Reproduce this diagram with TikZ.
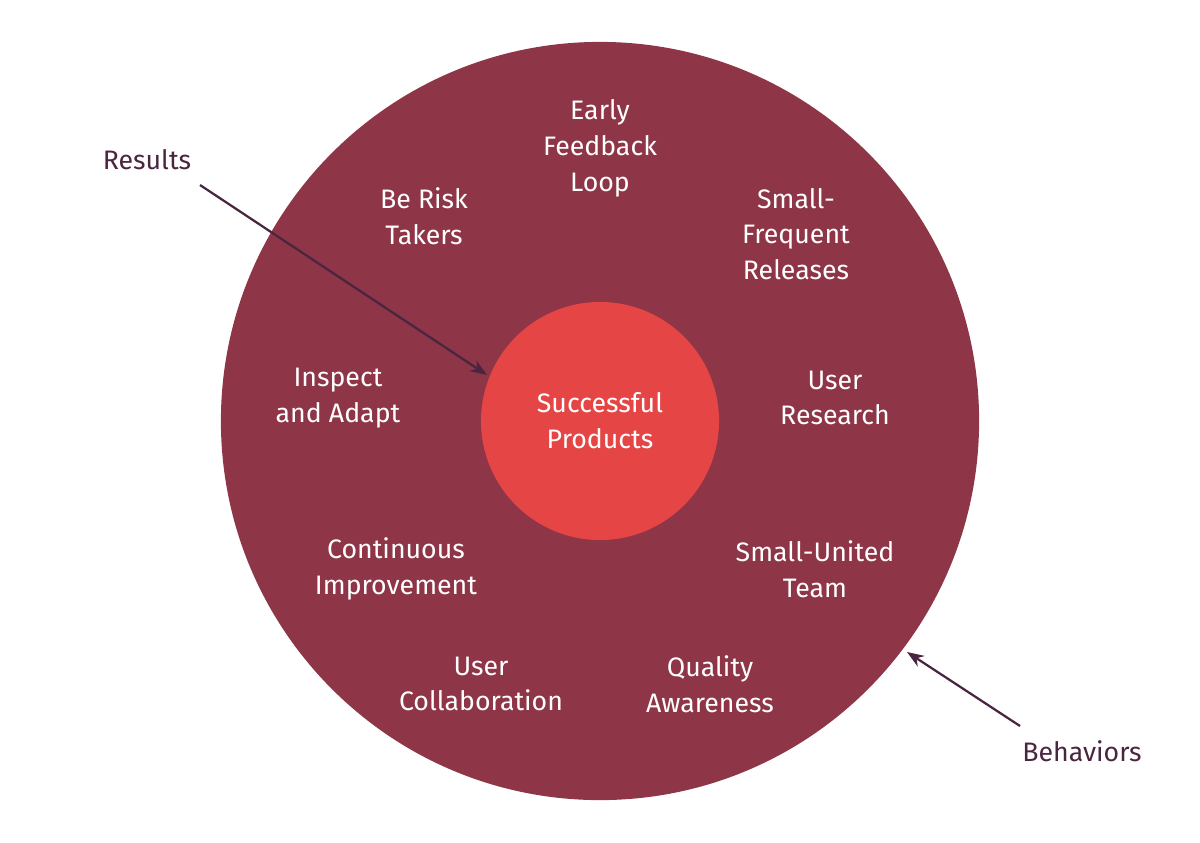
\documentclass[tikz,border=0pt]{standalone}
\usepackage{fontspec}
\setmainfont{Fira Sans}
\usetikzlibrary{positioning, arrows.meta}
\definecolor{outerred}{HTML}{8E3547}
\definecolor{innerred}{HTML}{E54545}
\definecolor{labelink}{HTML}{4A2540}
\tikzset{
  behavior/.style={text=white, align=center, font=\fontsize{19}{25.5}\selectfont},
  side/.style={text=labelink, font=\fontsize{19}{24}\selectfont},
  pointer/.style={-{Stealth[length=12pt,width=9pt]}, labelink, line width=1.6pt}
}
\begin{document}
\begin{tikzpicture}[x=0.025cm, y=-0.025cm]
        % Frame
        \useasboundingbox (0,0) rectangle (1200,842);

        % Circles
        \node[circle, fill=outerred, minimum size=18.95cm, inner sep=0] (outer) at (600,421) {};
        \node[circle, fill=innerred, minimum size=5.95cm, inner sep=0, behavior] (core) at (600,421) {Successful\\Products};

        % Behaviors
        \node[behavior] (feedback) at (600,148) {Early\\Feedback\\Loop};
        \node[behavior] (risk) at (424,216) {Be Risk\\Takers};
        \node[behavior] (releases) at (796,234) {Small-\\Frequent\\Releases};
        \node[behavior] (inspect) at (338,398) {Inspect\\and Adapt};
        \node[behavior] (research) at (835,398) {User\\Research};
        \node[behavior] (improve) at (396,569) {Continuous\\Improvement};
        \node[behavior] (team) at (815,569) {Small-United\\Team};
        \node[behavior] (collab) at (481,684) {User\\Collaboration};
        \node[behavior] (quality) at (710,684) {Quality\\Awareness};

        % Side labels
        \node[side] (results) at (147,160) {Results};
        \node[side] (behaviors) at (1082,751) {Behaviors};
        \coordinate (resultsstart) at (200,185);
        \coordinate (resultsend) at (487,375);
        \coordinate (behaviorsstart) at (1020,726);
        \coordinate (behaviorsend) at (907,652);
        \draw[pointer] (resultsstart) -- (resultsend);
        \draw[pointer] (behaviorsstart) -- (behaviorsend);
\end{tikzpicture}
\end{document}
